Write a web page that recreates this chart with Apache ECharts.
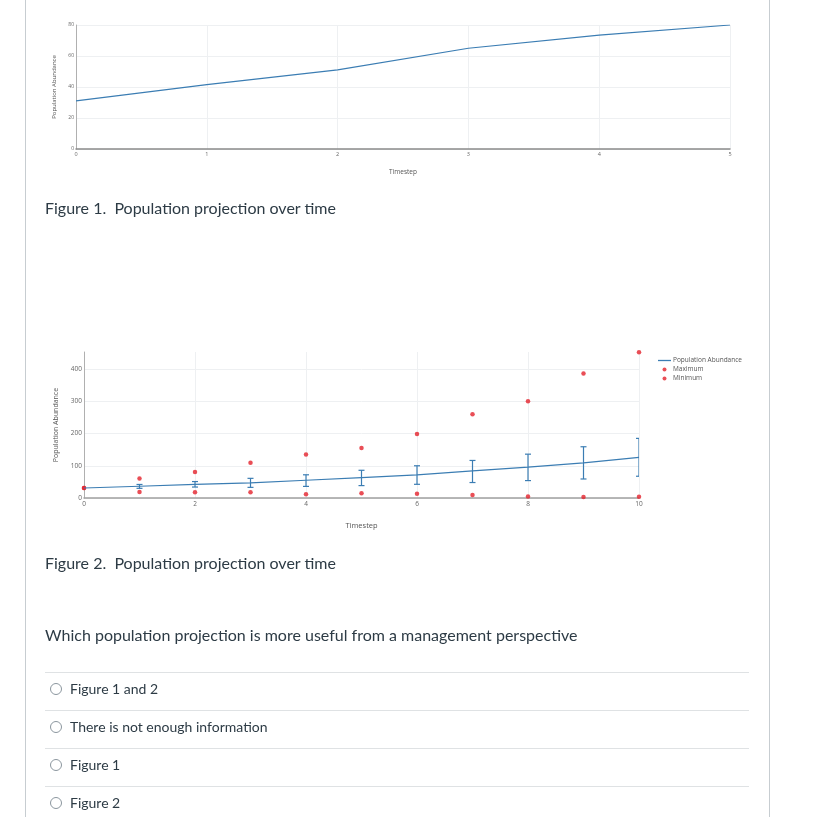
<!DOCTYPE html>
<html><head><meta charset="utf-8">
<script src="https://cdn.jsdelivr.net/npm/echarts@6/dist/echarts.min.js"></script>
<style>
body{margin:0;background:#fff;font-family:Lato,"Open Sans",sans-serif;color:#2d3b45;width:836px;height:817px;overflow:hidden;position:relative}
#chart{position:absolute;left:0;top:0;width:836px;height:817px;}
.vline{position:absolute;top:0;width:1px;height:817px;background:#c7cdd1}
.cap{position:absolute;left:45px;font-size:16px;line-height:20px;white-space:nowrap}
.sep{position:absolute;left:45px;width:704px;height:1px;background:#dfe2e4}
.opt{position:absolute;left:70px;font-size:14px;line-height:18px;white-space:nowrap}
.rad{position:absolute;left:50px;width:12px;height:12px;border:1px solid #8b969e;border-radius:50%;box-sizing:border-box}
</style></head>
<body>
<div class="vline" style="left:25px"></div>
<div class="vline" style="left:769px"></div>
<div id="chart"></div>
<div class="cap" style="top:198px">Figure 1.&nbsp; Population projection over time</div>
<div class="cap" style="top:553px">Figure 2.&nbsp; Population projection over time</div>
<div class="cap" style="top:625px">Which population projection is more useful from a management perspective</div>
<div class="sep" style="top:672px"></div>
<div class="sep" style="top:710px"></div>
<div class="sep" style="top:748px"></div>
<div class="sep" style="top:786px"></div>
<div class="rad" style="top:683px"></div><div class="opt" style="top:680px">Figure 1 and 2</div>
<div class="rad" style="top:721px"></div><div class="opt" style="top:718px">There is not enough information</div>
<div class="rad" style="top:759px"></div><div class="opt" style="top:756px">Figure 1</div>
<div class="rad" style="top:797px"></div><div class="opt" style="top:794px">Figure 2</div>
<script>
// Figure 1 data
var steps1 = [0, 1, 2, 3, 4, 5];
var abund1 = [31, 41.5, 51, 65, 73.5, 80];
// Figure 2 data
var steps2 = [0, 1, 2, 3, 4, 5, 6, 7, 8, 9, 10];
var mean2 = [31, 36.5, 42, 47, 55, 63.5, 72, 84, 95.5, 109, 126];
var errHigh2 = [31, 42, 51, 61, 72, 86, 100, 116.5, 136, 159, 185];
var errLow2 = [31, 30, 34, 33, 36, 38.5, 42.5, 48, 54, 59, 67.5];
var max2 = [31, 60.5, 81, 109, 135, 155, 198.5, 260, 300.5, 386.5, 452];
var min2 = [31, 19, 18, 18, 11.5, 14.5, 13.5, 9.5, 5, 3, 3.5];
var yTicks1 = [0, 20, 40, 60, 80];
var yTicks2 = [0, 100, 200, 300, 400];
var xTicks2 = [0, 2, 4, 6, 8, 10];

var lineColor = '#3b7db3';
var dotColor = '#e3222c';
var axisTxt = '#666';
var gridCol = '#eef0f2';

function pair(xs, ys){ return xs.map(function(x,i){ return [x, ys[i]]; }); }
var errData = steps2.map(function(x,i){ return [x, errLow2[i], errHigh2[i]]; }).filter(function(d){ return d[2] > d[1]; });

var chart = echarts.init(document.getElementById('chart'), null, {renderer:'canvas'});
chart.setOption({
  animation: false,
  textStyle: {fontFamily: '"Open Sans", Lato, sans-serif'},
  grid: [
    {left: 76, top: 25, width: 654, height: 124},
    {left: 84, top: 352, width: 555, height: 146}
  ],
  xAxis: [
    {gridIndex: 0, type: 'value', min: 0, max: 5, interval: 1,
     name: 'Timestep', nameLocation: 'middle', nameGap: 20,
     nameTextStyle: {fontSize: 6.5, color: '#555'},
     axisLine: {lineStyle: {color: '#8a8a8a', width: 1.5}},
     axisTick: {show: false},
     axisLabel: {fontSize: 5.5, color: axisTxt, margin: 2},
     splitLine: {show: true, lineStyle: {color: gridCol, width: 1}}},
    {gridIndex: 1, type: 'value', min: 0, max: 10, interval: 2,
     name: 'Timestep', nameLocation: 'middle', nameGap: 24,
     nameTextStyle: {fontSize: 7.5, color: '#555'},
     axisLine: {lineStyle: {color: '#a0a0a0', width: 1.5}},
     axisTick: {show: false},
     axisLabel: {fontSize: 6.5, color: axisTxt, margin: 3},
     splitLine: {show: true, lineStyle: {color: gridCol, width: 1}}}
  ],
  yAxis: [
    {gridIndex: 0, type: 'value', min: 0, max: 80, interval: 20,
     name: 'Population Abundance', nameLocation: 'middle', nameGap: 17, nameRotate: 90,
     nameTextStyle: {fontSize: 6, color: '#555'},
     axisLine: {show: true, lineStyle: {color: '#b0b0b0', width: 1}},
     axisTick: {show: false},
     axisLabel: {fontSize: 5, color: axisTxt, margin: 2},
     splitLine: {show: true, lineStyle: {color: gridCol, width: 1}}},
    {gridIndex: 1, type: 'value', min: 0, max: 453,
     name: 'Population Abundance', nameLocation: 'middle', nameGap: 19, nameRotate: 90,
     nameTextStyle: {fontSize: 7, color: '#555'},
     axisLine: {show: true, lineStyle: {color: '#b0b0b0', width: 1}},
     axisTick: {show: false, customValues: yTicks2},
     axisLabel: {fontSize: 6.5, color: axisTxt, margin: 2, customValues: yTicks2},
     splitLine: {show: true, lineStyle: {color: gridCol, width: 1}}}
  ],
  legend: {
    left: 653, top: 352, orient: 'vertical', itemWidth: 13, itemHeight: 4, itemGap: 2,
    textStyle: {fontSize: 6.5, color: '#555', padding: [0,0,0,-3]},
    data: [
      {name: 'Population Abundance', icon: 'path://M0,0H20V2H0Z'},
      {name: 'Maximum', icon: 'circle'},
      {name: 'Minimum', icon: 'circle'}
    ]
  },
  series: [
    {type: 'line', xAxisIndex: 0, yAxisIndex: 0, data: pair(steps1, abund1),
     showSymbol: false, symbol: 'none', lineStyle: {color: lineColor, width: 1.2}, itemStyle: {color: lineColor}},
    {type: 'line', name: 'Population Abundance', xAxisIndex: 1, yAxisIndex: 1, data: pair(steps2, mean2),
     showSymbol: false, symbol: 'none', lineStyle: {color: lineColor, width: 1.2}, itemStyle: {color: lineColor}},
    {type: 'custom', xAxisIndex: 1, yAxisIndex: 1, data: errData, clip: true,
     renderItem: function(params, api){
       var x = api.value(0);
       var lo = api.coord([x, api.value(1)]);
       var hi = api.coord([x, api.value(2)]);
       var w = 3;
       var st = {stroke: lineColor, lineWidth: 1.2};
       return {type: 'group', children: [
         {type: 'line', shape: {x1: lo[0], y1: lo[1], x2: hi[0], y2: hi[1]}, style: st},
         {type: 'line', shape: {x1: lo[0]-w, y1: lo[1], x2: lo[0]+w, y2: lo[1]}, style: st},
         {type: 'line', shape: {x1: hi[0]-w, y1: hi[1], x2: hi[0]+w, y2: hi[1]}, style: st}
       ]};
     }},
    {type: 'scatter', name: 'Maximum', xAxisIndex: 1, yAxisIndex: 1, data: pair(steps2, max2),
     symbol: 'circle', symbolSize: 4.5, itemStyle: {color: dotColor}, clip: true},
    {type: 'scatter', name: 'Minimum', xAxisIndex: 1, yAxisIndex: 1, data: pair(steps2, min2),
     symbol: 'circle', symbolSize: 4.5, itemStyle: {color: dotColor}, clip: true}
  ]
});
</script>
</body></html>
